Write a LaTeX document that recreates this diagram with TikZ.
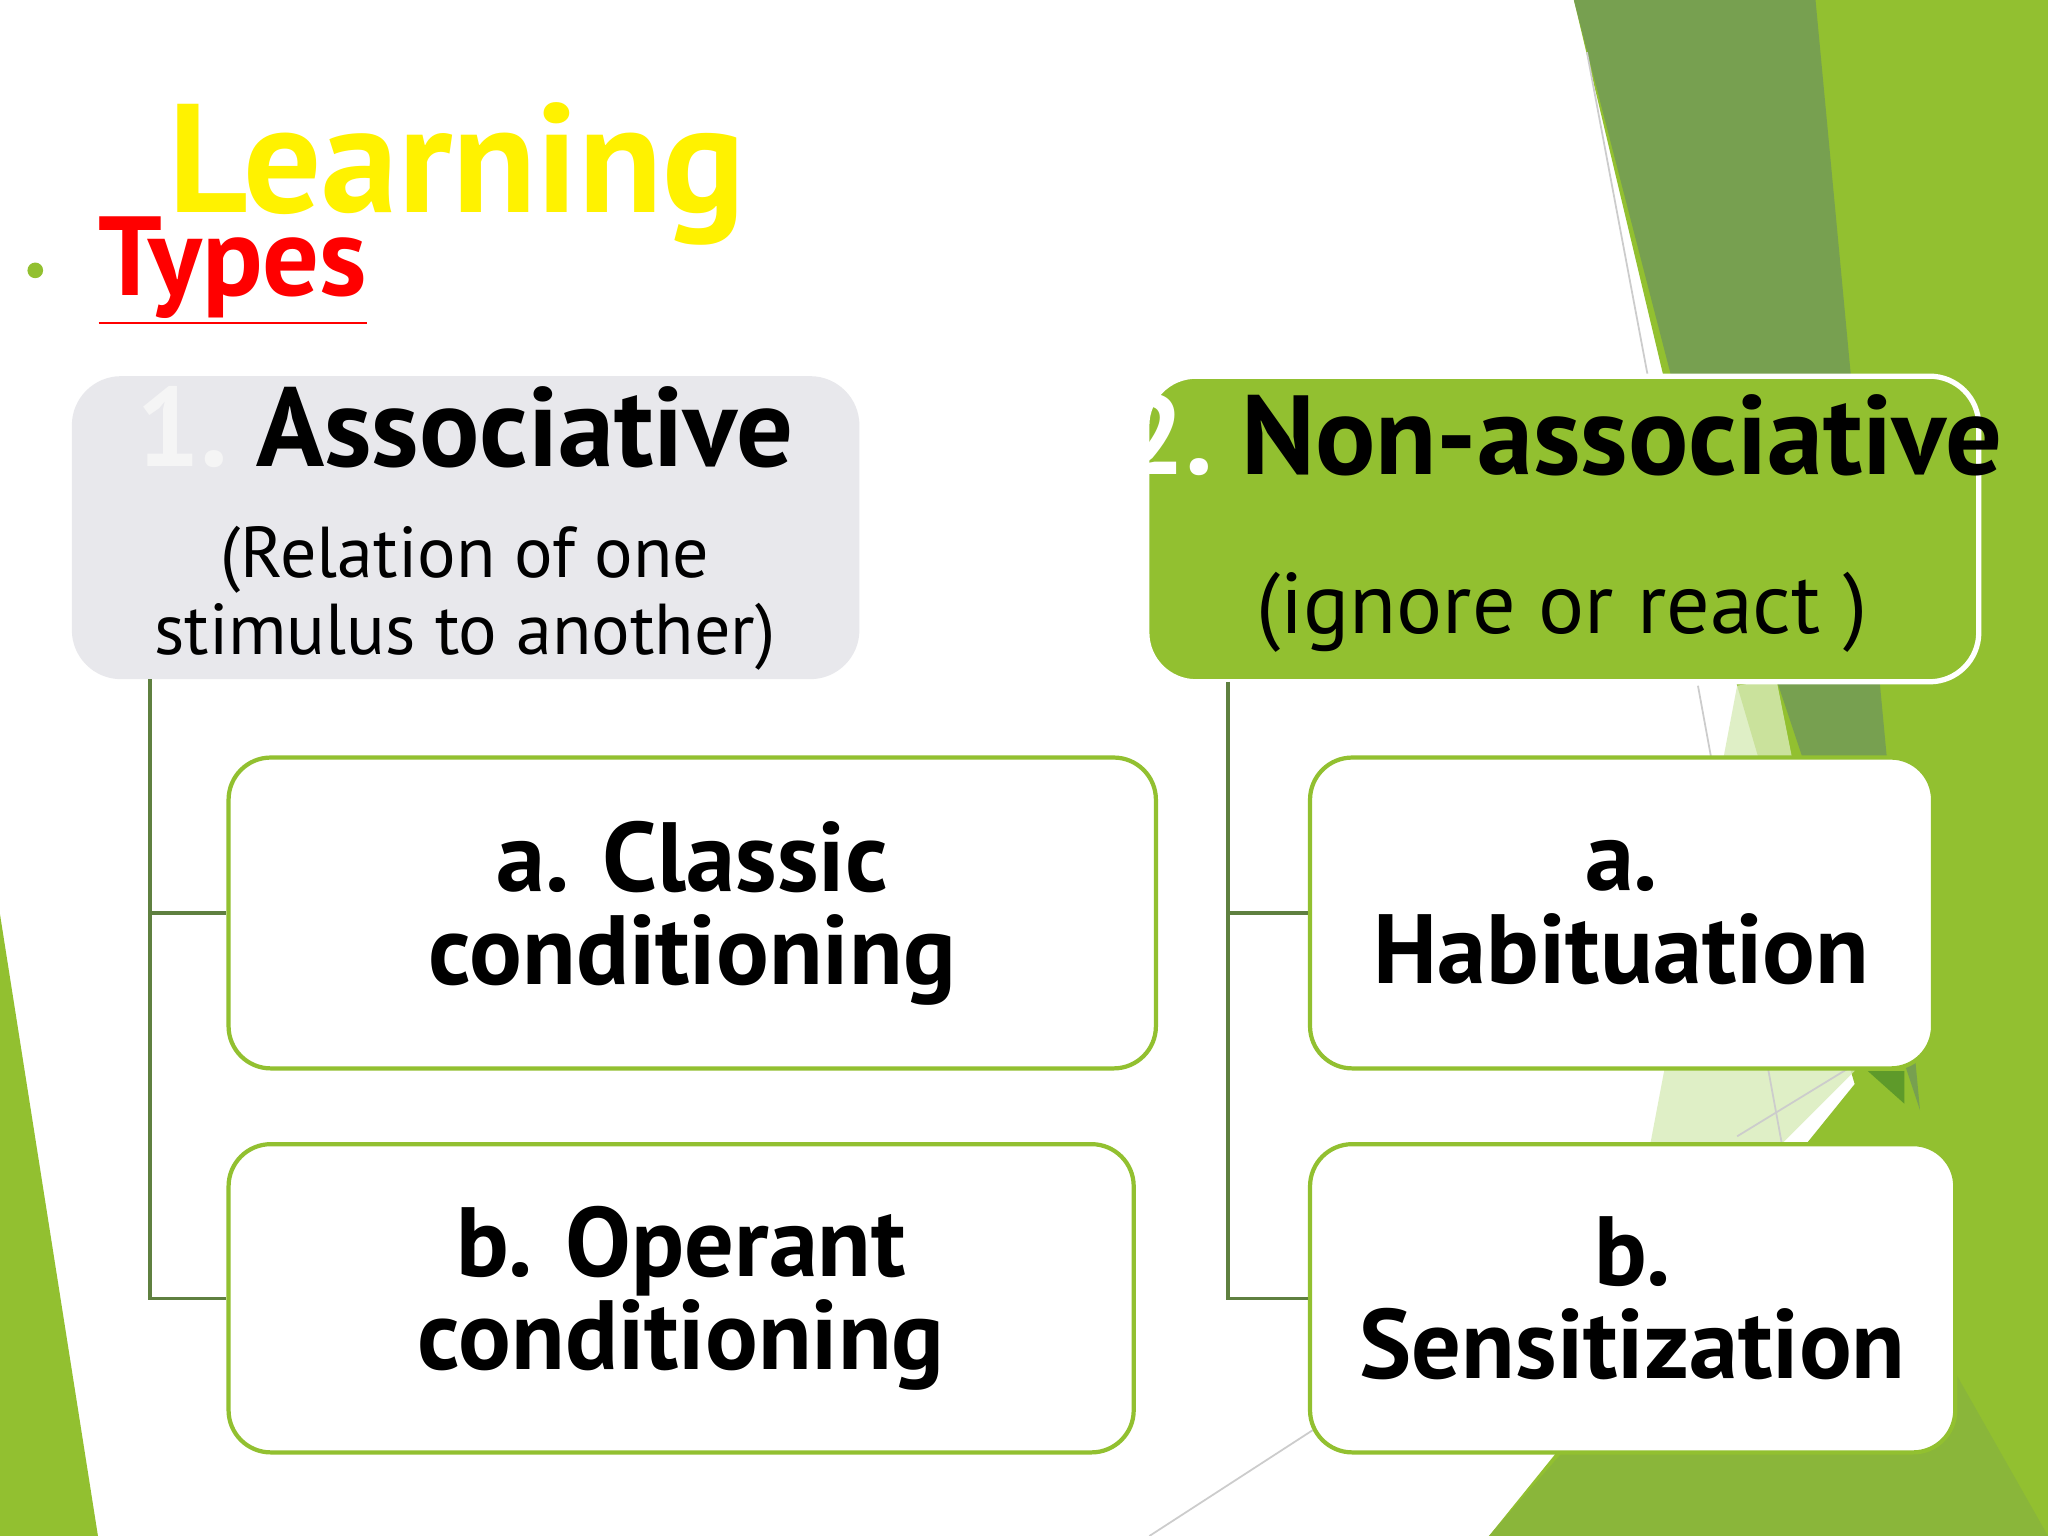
\documentclass[tikz,border=0pt]{standalone}
\usepackage{fontspec}
\setmainfont{PT Sans}
\definecolor{gA}{HTML}{92C030}
\definecolor{gB}{HTML}{77A050}
\definecolor{gC}{HTML}{5E9A2A}
\definecolor{gL}{HTML}{D8EBB8}
\definecolor{boxg}{HTML}{E8E8EC}
\tikzset{
 sub/.style={draw=gA,line width=1.2pt,rounded corners=12pt,fill=white},
 subtxt/.style={font=\bfseries\fontsize{28}{26.5}\selectfont,align=center},
 conn/.style={draw=gB!80!black,line width=1pt}
}
\begin{document}
\begin{tikzpicture}[x=0.013061cm,y=-0.013061cm]
\useasboundingbox (0,0) rectangle (1568,1176);
\fill[white] (0,0) rectangle (1568,1176);
% background shapes
\fill[gA] (1205,0) -- (1568,0) -- (1568,1176) -- (1140,1176) -- (1420,830) -- (1330,525) -- cycle;
\fill[gB] (1205,0) -- (1390,0) -- (1470,850) -- (1360,520) -- (1280,290) -- cycle;
\fill[gC] (1430,820) -- (1458,820) -- (1458,845) -- cycle;
\fill[gL,opacity=0.8] (1330,525) -- (1360,520) -- (1420,820) -- (1240,1000) -- cycle;
\fill[gA!70!gB] (1140,1176) -- (1400,880) -- (1568,1176) -- cycle;
\fill[gA] (0,700) -- (75,1176) -- (0,1176) -- cycle;
\draw[gray!40,line width=0.5pt] (1215,40) -- (1262,290);
\draw[gray!40,line width=0.5pt] (1300,525) -- (1365,880);
\draw[gray!40,line width=0.5pt] (880,1176) -- (1005,1095);
\draw[gray!40,line width=0.5pt] (1330,870) -- (1420,815);
% titles
\node[text=yellow,font=\bfseries\fontsize{44}{46}\selectfont,anchor=base] (title) at (350,163) {Learning};
\fill[gA] (27,207) circle (6);
\node[text=red,font=\bfseries\fontsize{32}{34}\selectfont,anchor=base west,inner sep=0pt] (types) at (75,226) {\underline{Types}};
% main boxes
\fill[boxg,rounded corners=14pt] (55,288) rectangle (658,520);
\node[anchor=base,font=\bfseries\fontsize{32}{32}\selectfont] (at) at (356,357) {\textcolor{white!92!gray}{1.}\ Associative};
\node[align=center,font=\fontsize{20.5}{22}\selectfont] (ad) at (356,458) {(Relation of one\\stimulus to another)};
\fill[gA,draw=white,line width=1.5pt,rounded corners=14pt] (878,288) rectangle (1515,522);
\node[anchor=base,font=\bfseries\fontsize{32}{32}\selectfont] (nt) at (1196,363) {\textcolor{white}{2.}\ Non-associative};
\node[anchor=base,font=\fontsize{24.5}{25}\selectfont] (nd) at (1196,485) {(ignore or react )};
% sub boxes
\node[sub,minimum width=710*0.013061cm,minimum height=238*0.013061cm] (b1) at (530,699) {};
\node[subtxt] at (b1) {a. Classic\\conditioning};
\node[sub,minimum width=693*0.013061cm,minimum height=236*0.013061cm] (b2) at (521.5,994) {};
\node[subtxt] at (b2) {b. Operant\\conditioning};
\node[sub,minimum width=477*0.013061cm,minimum height=238*0.013061cm] (b3) at (1241.5,699) {};
\node[subtxt] at (b3) {a.\\Habituation};
\node[sub,minimum width=494*0.013061cm,minimum height=236*0.013061cm] (b4) at (1250,994) {};
\node[subtxt] at (b4) {b.\\Sensitization};
% connectors
\coordinate (la) at (115,520);
\coordinate (ra) at (940,522);
\draw[conn] (la) |- (b1.west);
\draw[conn] (la) |- (b2.west);
\draw[conn] (ra) |- (b3.west);
\draw[conn] (ra) |- (b4.west);
\end{tikzpicture}
\end{document}
